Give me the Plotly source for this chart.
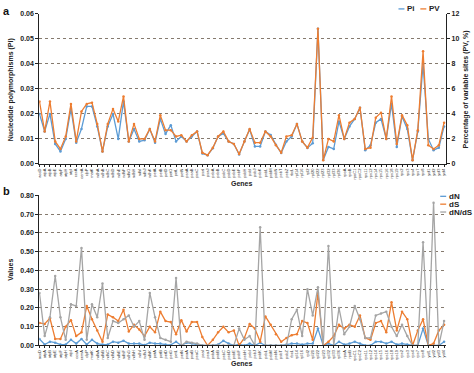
import plotly.graph_objects as go

genes = ["accD","atpA","atpB","atpE","atpF","atpH","atpI","ccsA","cemA","clpP","matK",
         "ndhA","ndhB","ndhC","ndhD","ndhE","ndhF","ndhG","ndhH","ndhI","ndhJ","ndhK",
         "petA","petB","petD","petG","petL","petN","psaA","psaB","psaC","psaI","psaJ",
         "psbA","psbB","psbC","psbD","psbE","psbF","psbH","psbI","psbJ","psbK","psbL",
         "psbM","psbN","psbT","psbZ","rbcL","rpl14","rpl16","rpl2","rpl20","rpl22","rpl23",
         "rpl32","rpl33","rpl36","rpoA","rpoB","rpoC1","rpoC2","rps11","rps12","rps14",
         "rps15","rps16","rps18","rps19","rps2","rps3","rps4","rps7","rps8","ycf1","ycf2",
         "ycf3","ycf4"]

pi = [0.020,0.013,0.020,0.008,0.005,0.010,0.022,0.0085,0.014,0.023,0.023,0.015,0.005,0.015,
      0.020,0.010,0.025,0.009,0.014,0.009,0.0095,0.014,0.0085,0.018,0.012,0.0155,0.009,0.011,
      0.009,0.011,0.013,0.0042,0.0035,0.0063,0.011,0.0122,0.009,0.008,0.0038,0.009,0.0138,
      0.007,0.007,0.013,0.0116,0.0077,0.0044,0.009,0.011,0.016,0.009,0.0064,0.0083,0.054,
      0.0016,0.0068,0.006,0.017,0.010,0.015,0.018,0.0225,0.0055,0.0075,0.0165,0.018,0.010,
      0.024,0.0068,0.019,0.014,0.0015,0.013,0.040,0.010,0.0055,0.0065,0.015]

pv = [5.0,2.6,5.0,1.8,1.2,2.2,4.8,1.8,4.2,4.8,4.9,3.2,1.0,3.2,4.4,3.4,5.4,1.8,3.2,2.0,2.0,
      2.8,1.8,3.9,2.7,2.7,2.2,2.3,1.8,2.3,2.6,0.9,0.7,1.3,2.2,2.6,1.8,1.6,0.8,1.8,2.8,1.7,
      1.7,2.6,2.2,1.5,0.9,2.2,2.3,3.2,1.8,1.3,2.1,10.8,0.3,2.0,1.8,3.9,2.0,3.3,3.6,4.5,1.2,
      1.3,3.7,4.1,2.0,5.4,1.6,3.9,3.1,0.3,2.7,9.0,1.5,1.2,1.5,3.3]

dn = [0.035,0.005,0.02,0.015,0.005,0.005,0.03,0.01,0.035,0.005,0.03,0.01,0.005,0.005,0.02,
      0.015,0.025,0.01,0.01,0.01,0.002,0.015,0.01,0.01,0.005,0.003,0.02,0.0,0.015,0.01,
      0.005,0.0,0.0,0.0,0.005,0.025,0.01,0.0,0.005,0.0,0.01,0.0,0.015,0.0,0.0,0.0,0.0,0.005,
      0.01,0.01,0.005,0.01,0.01,0.09,0.0,0.01,0.0,0.02,0.005,0.01,0.02,0.01,0.0,0.0,0.02,
      0.02,0.01,0.02,0.005,0.01,0.005,0.0,0.0,0.09,0.0,0.0,0.0,0.02]

ds = [0.12,0.115,0.145,0.035,0.035,0.10,0.135,0.05,0.07,0.21,0.14,0.08,0.02,0.165,0.15,
      0.13,0.19,0.075,0.11,0.085,0.05,0.10,0.07,0.18,0.13,0.125,0.06,0.135,0.075,0.125,
      0.125,0.045,0.0,0.03,0.07,0.10,0.07,0.08,0.0,0.04,0.115,0.09,0.02,0.155,0.11,0.06,
      0.02,0.04,0.055,0.06,0.13,0.12,0.03,0.28,0.0,0.02,0.05,0.11,0.09,0.11,0.10,0.16,0.04,
      0.03,0.12,0.13,0.07,0.23,0.08,0.18,0.14,0.0,0.08,0.14,0.0,0.01,0.08,0.11]

dnds = [0.28,0.05,0.15,0.37,0.15,0.03,0.22,0.21,0.52,0.03,0.22,0.15,0.33,0.04,0.13,0.12,
        0.14,0.16,0.10,0.13,0.03,0.28,0.15,0.04,0.03,0.02,0.36,0.0,0.02,0.015,0.01,0.0,0.0,
        0.0,0.0,0.0,0.0,0.0,0.09,0.03,0.05,0.0,0.63,0.0,0.0,0.0,0.0,0.0,0.14,0.19,0.05,0.30,
        0.16,0.31,0.0,0.53,0.0,0.20,0.06,0.10,0.21,0.14,0.04,0.04,0.16,0.17,0.18,0.10,0.05,
        0.11,0.05,0.0,0.0,0.55,0.0,0.76,0.0,0.13]

BLUE = "#5B9BD5"
ORANGE = "#ED7D31"
GRAY = "#A5A5A5"
FONT = "Liberation Sans"

W, H = 474, 373
def px(x):
    return x / W
def py(y):
    return 1 - y / H

x = list(range(len(genes)))

fig = go.Figure()

def line(yv, color, name, xa, ya):
    return go.Scatter(x=x, y=yv, mode="lines+markers", name=name, xaxis=xa, yaxis=ya,
                      line=dict(color=color, width=1.3),
                      marker=dict(color=color, size=2.5), showlegend=False)

fig.add_trace(line(pi, BLUE, "Pi", "x", "y"))
fig.add_trace(line(pv, ORANGE, "PV", "x", "y2"))
fig.add_trace(line(dn, BLUE, "dN", "x2", "y3"))
fig.add_trace(line(ds, ORANGE, "dS", "x2", "y3"))
fig.add_trace(line(dnds, GRAY, "dN/dS", "x2", "y3"))

xdom = [px(36.5), px(446)]
xr = [-0.03, len(genes) - 1 + 0.4]
tickf = dict(family=FONT, size=7, color="#222", weight="bold")
xtickf = dict(family=FONT, size=4, color="#333")

common_x = dict(domain=xdom, range=xr, tickmode="array", tickvals=x, ticktext=genes,
                tickangle=-90, tickfont=xtickf, showline=True, linecolor="#222", linewidth=1,
                ticks="outside", ticklen=2, tickcolor="#222", showgrid=False, zeroline=False)
grid = dict(showgrid=True, gridcolor="#857a6e", griddash="dot", gridwidth=1)

fig.update_layout(
    width=W, height=H, margin=dict(l=0, r=0, t=0, b=0),
    paper_bgcolor="white", plot_bgcolor="white", showlegend=False,
    xaxis=dict(anchor="y", **common_x),
    yaxis=dict(domain=[py(163), py(10)], range=[0, 0.06], dtick=0.01, tickformat=".2f",
               tickfont=tickf, showline=True, linecolor="#222", linewidth=1, ticks="outside",
               ticklen=3, tickcolor="#222", zeroline=False, **grid),
    yaxis2=dict(overlaying="y", side="right", anchor="x", range=[0, 12], dtick=2,
                tickfont=tickf, showline=True, linecolor="#222", linewidth=1, ticks="outside",
                ticklen=3, tickcolor="#222", showgrid=False, zeroline=False),
    xaxis2=dict(anchor="y3", **common_x),
    yaxis3=dict(domain=[py(348), py(195)], range=[0, 0.8], dtick=0.1, tickformat=".2f",
                tickfont=tickf, showline=True, linecolor="#222", linewidth=1, ticks="outside",
                ticklen=3, tickcolor="#222", zeroline=False, **grid),
)

titlef = dict(family=FONT, size=7, color="#222", weight="bold")
ann = [
    dict(x=px(4), y=py(7), text="<b>a</b>", font=dict(family=FONT, size=11, color="#111")),
    dict(x=px(4), y=py(191), text="<b>b</b>", font=dict(family=FONT, size=11, color="#111")),
    dict(x=px(8), y=py(87), text="Nucleotide polymorphisms (Pi)", textangle=-90, font=titlef),
    dict(x=px(466), y=py(87), text="Percentage of variable sites (PV, %)", textangle=-90, font=titlef),
    dict(x=px(241), y=py(183), text="Genes", font=titlef),
    dict(x=px(8), y=py(271), text="Values", textangle=-90, font=titlef),
    dict(x=px(241), y=py(366), text="Genes", font=titlef),
]
for a in ann:
    a.update(xref="paper", yref="paper", showarrow=False, xanchor="center", yanchor="middle")
    fig.add_annotation(**a)

legf = dict(family=FONT, size=8, color="#222", weight="bold")
def key(x0, yv, color, label):
    fig.add_shape(type="line", xref="paper", yref="paper", x0=px(x0), x1=px(x0 + 6),
                  y0=py(yv), y1=py(yv), line=dict(color=color, width=1.3))
    fig.add_annotation(xref="paper", yref="paper", x=px(x0 + 7), y=py(yv), text=label,
                       showarrow=False, xanchor="left", yanchor="middle", font=legf)

key(398, 5, BLUE, "Pi")
key(420, 5, ORANGE, "PV")
key(440, 196, BLUE, "dN")
key(440, 204, ORANGE, "dS")
key(440, 212, GRAY, "dN/dS")

fig.write_html("out.html", config={"displayModeBar": False},
               post_script="document.body.style.margin='0';document.body.style.overflow='hidden';")
